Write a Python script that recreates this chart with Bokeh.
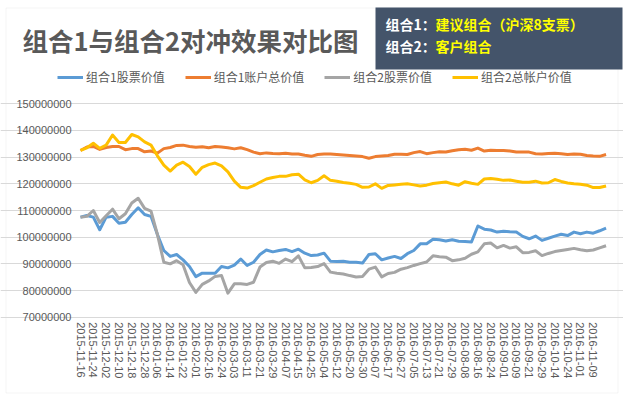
from bokeh.plotting import figure
from bokeh.models import (Range1d, FixedTicker, BasicTickFormatter,
                          Legend, LegendItem, Label, BoxAnnotation, ColumnDataSource)
from bokeh.embed import file_html
from bokeh.resources import INLINE

# ---- data (values in millions, one sample every 3 trading days) ----
tick_labels = ["2015-11-16", "2015-11-24", "2015-12-02", "2015-12-10", "2015-12-18", "2015-12-28",
               "2016-01-06", "2016-01-14", "2016-01-22", "2016-02-01", "2016-02-16", "2016-02-24",
               "2016-03-03", "2016-03-11", "2016-03-21", "2016-03-29", "2016-04-07", "2016-04-15",
               "2016-04-25", "2016-05-04", "2016-05-12", "2016-05-20", "2016-05-30", "2016-06-07",
               "2016-06-17", "2016-06-27", "2016-07-05", "2016-07-13", "2016-07-21", "2016-07-29",
               "2016-08-08", "2016-08-16", "2016-08-24", "2016-09-01", "2016-09-09", "2016-09-21",
               "2016-09-29", "2016-10-14", "2016-10-24", "2016-11-01", "2016-11-09"]
tick_every = 6      # trading days between axis labels
sample_every = 3    # trading days between samples below
n_days = 247        # trading days shown on the axis
y_ticks_m = [70, 80, 90, 100, 110, 120, 130, 140, 150]

stock1 = [107.5, 108.1, 107.5, 102.8, 107.5, 107.8, 105.2, 105.6, 108.5, 111.0,
          108.5, 107.8, 101.0, 95.0, 92.8, 93.5, 91.5, 89.0, 85.2, 86.5,
          86.5, 86.5, 89.0, 88.5, 89.5, 91.8, 89.4, 90.6, 93.5, 95.2,
          94.5, 95.0, 95.4, 94.6, 95.5, 94.0, 93.1, 93.3, 94.0, 91.0,
          90.9, 91.0, 90.6, 90.6, 90.3, 93.5, 93.8, 91.5, 92.2, 92.8,
          92.0, 93.8, 95.0, 97.5, 97.5, 99.2, 99.0, 98.6, 99.0, 98.5,
          98.4, 98.2, 104.2, 103.0, 102.7, 101.9, 102.2, 102.0, 101.9, 100.3,
          99.4, 100.4, 98.8, 99.6, 100.4, 101.1, 100.6, 101.9, 101.3, 101.9,
          101.5, 102.4, 103.4]
acct1 = [132.5, 133.8, 134.0, 132.9, 133.6, 134.0, 134.0, 132.8, 133.2, 133.2,
         132.0, 132.3, 131.5, 133.2, 133.6, 134.4, 134.5, 134.0, 133.7, 133.9,
         133.5, 134.0, 133.8, 133.5, 133.1, 133.5, 132.8, 131.9, 131.3, 131.6,
         131.4, 131.3, 131.5, 131.2, 131.2, 130.7, 130.3, 131.0, 131.2, 131.2,
         131.0, 130.8, 130.6, 130.4, 130.2, 129.6, 130.2, 130.4, 130.6, 131.1,
         131.1, 131.0, 131.7, 132.1, 131.3, 131.7, 132.0, 131.9, 132.4, 132.8,
         133.0, 132.6, 133.4, 132.3, 132.6, 132.5, 132.5, 132.3, 131.9, 131.9,
         131.9, 131.3, 131.2, 131.4, 131.5, 131.3, 131.0, 131.2, 131.1, 130.6,
         130.4, 130.3, 131.0]
stock2 = [107.5, 107.8, 110.0, 105.5, 108.0, 110.5, 106.9, 108.8, 112.8, 114.6,
          110.8, 109.8, 101.0, 90.6, 90.0, 91.2, 89.7, 83.0, 79.3, 82.3,
          83.6, 85.3, 85.6, 79.0, 82.5, 82.5, 82.3, 83.1, 88.8, 90.5,
          91.0, 90.2, 91.8, 90.8, 93.0, 88.5, 88.6, 89.0, 90.1, 86.9,
          86.5, 86.2, 85.6, 85.1, 85.3, 88.0, 88.8, 85.1, 86.4, 86.8,
          88.0, 88.6, 89.4, 90.1, 90.7, 93.0, 92.7, 92.5, 91.2, 91.5,
          92.1, 93.6, 94.5, 97.5, 97.8, 96.0, 96.9, 95.9, 96.4, 94.2,
          94.3, 94.9, 93.1, 93.9, 94.6, 95.0, 95.4, 95.8, 95.3, 94.9,
          95.2, 96.0, 96.8]
acct2 = [132.5, 133.5, 135.2, 133.3, 134.5, 138.3, 135.5, 135.5, 138.5, 137.6,
         135.7, 134.5, 130.5, 127.0, 124.8, 127.0, 128.1, 126.5, 123.6, 126.2,
         127.2, 127.8, 126.7, 124.5, 121.0, 118.7, 118.4, 119.3, 120.6, 121.8,
         122.4, 122.8, 122.8, 123.4, 123.6, 121.5, 120.4, 121.3, 123.0, 121.3,
         121.0, 120.5, 120.2, 119.8, 118.7, 118.8, 120.0, 118.3, 119.4, 119.6,
         119.8, 120.0, 119.6, 119.2, 119.5, 120.1, 120.4, 120.7, 120.0, 119.5,
         120.8, 120.2, 119.8, 121.8, 122.0, 121.7, 121.3, 121.4, 121.0, 120.6,
         120.6, 121.0, 120.3, 120.4, 121.6, 120.9, 120.3, 120.0, 119.8, 119.5,
         118.6, 118.6, 119.2]

series_names = ["组合1股票价值", "组合1账户总价值", "组合2股票价值", "组合2总帐户价值"]
series_colors = ["#5B9BD5", "#ED7D31", "#A5A5A5", "#FFC000"]

title_text = "组合1与组合2对冲效果对比图"
note_lines = [("组合1：", "建议组合（沪深8支票）"), ("组合2：", "客户组合")]

GREY_TXT = "#595959"
GRID = "#D9D9D9"
CJK = "Noto Sans CJK SC"

# ---- layout geometry (pixels) ----
W, H = 623, 397
PL, PR, PT, PB = 80, 607.7, 103.3, 316.7   # plot area inside the canvas
kx = (PR - PL) / n_days
ky = (PB - PT) / (y_ticks_m[-1] - y_ticks_m[0])
x_start = -PL / kx
x_end = n_days + (W - PR) / kx
y_top = (y_ticks_m[-1] + PT / ky) * 1e6
y_bot = (y_ticks_m[0] - (H - PB) / ky) * 1e6

n = len(stock1)
src = ColumnDataSource(dict(
    x=[i * sample_every for i in range(n)],
    s1=[v * 1e6 for v in stock1],
    a1=[v * 1e6 for v in acct1],
    s2=[v * 1e6 for v in stock2],
    a2=[v * 1e6 for v in acct2],
))

p = figure(width=W, height=H, output_backend="svg", toolbar_location=None,
           x_range=Range1d(x_start, x_end), y_range=Range1d(y_bot, y_top),
           min_border_left=0, min_border_right=0, min_border_top=0, min_border_bottom=0)
p.background_fill_color = "white"
p.border_fill_color = "white"
p.outline_line_color = None

# outer chart border
p.add_layout(BoxAnnotation(left=5.5, right=617.5, top=H - 7.5, bottom=H - 392.5,
                           left_units="screen", right_units="screen",
                           top_units="screen", bottom_units="screen",
                           fill_alpha=0, line_color=GRID, line_width=1))

renderers = []
for col, color in zip(["s1", "a1", "s2", "a2"], series_colors):
    renderers.append(p.line("x", col, source=src, line_color=color, line_width=3, line_join="round"))

# axes placed at the plot-area edges
yt = [v * 1e6 for v in y_ticks_m]
p.yaxis.fixed_location = 0
p.yaxis.ticker = FixedTicker(ticks=yt)
p.yaxis.formatter = BasicTickFormatter(use_scientific=False)
p.yaxis.axis_line_color = None
p.yaxis.major_tick_line_color = None
p.yaxis.minor_tick_line_color = None
p.yaxis.major_tick_out = 0
p.yaxis.major_tick_in = 0
p.yaxis.major_label_standoff = 9
p.yaxis.major_label_text_font = "Liberation Sans"
p.yaxis.major_label_text_font_size = "11px"
p.yaxis.major_label_text_color = GREY_TXT

xt = [i * tick_every for i in range(len(tick_labels))]
p.xaxis.fixed_location = yt[0]
p.xaxis.bounds = (0, n_days)
p.xaxis.ticker = FixedTicker(ticks=xt)
p.xaxis.major_label_overrides = {t: lab for t, lab in zip(xt, tick_labels)}
p.xaxis.major_label_orientation = "vertical"
p.xaxis.axis_line_color = GRID
p.xaxis.major_tick_line_color = None
p.xaxis.minor_tick_line_color = None
p.xaxis.major_tick_out = 0
p.xaxis.major_tick_in = 0
p.xaxis.major_label_standoff = 5
p.xaxis.major_label_text_font = "Liberation Sans"
p.xaxis.major_label_text_font_size = "11px"
p.xaxis.major_label_text_color = GREY_TXT

p.xgrid.grid_line_color = None
p.ygrid.ticker = FixedTicker(ticks=yt)
p.ygrid.bounds = (0, n_days)
p.ygrid.grid_line_color = GRID
p.ygrid.grid_line_width = 1

# title
p.add_layout(Label(x=22, y=H - 38.5, x_units="screen", y_units="screen", text=title_text,
                   text_font=CJK, text_font_style="bold", text_font_size="25.5px",
                   text_color=GREY_TXT, text_baseline="middle", text_align="left"))

# dark note box
p.add_layout(BoxAnnotation(left=375, right=622, top=H - 7, bottom=H - 69,
                           left_units="screen", right_units="screen",
                           top_units="screen", bottom_units="screen",
                           fill_color="#44546A", fill_alpha=1, line_color=None))
for i, (lead, rest) in enumerate(note_lines):
    yy = H - (23.5 + i * 22)
    p.add_layout(Label(x=385, y=yy, x_units="screen", y_units="screen", text=lead,
                       text_font=CJK, text_font_style="bold", text_font_size="14px",
                       text_color="white", text_baseline="middle"))
    p.add_layout(Label(x=435, y=yy, x_units="screen", y_units="screen", text=rest,
                       text_font=CJK, text_font_style="bold", text_font_size="14px",
                       text_color="#FFFF00", text_baseline="middle"))

# legend
legend = Legend(items=[LegendItem(label=nm, renderers=[r]) for nm, r in zip(series_names, renderers)],
                orientation="horizontal", location=(57, H - 85),
                label_text_font=CJK, label_text_font_size="12px",
                label_text_color=GREY_TXT, glyph_width=26, glyph_height=14, label_height=14,
                label_standoff=3, spacing=20, padding=0, margin=0,
                border_line_color=None, background_fill_alpha=0)
p.add_layout(legend)

open("out.html", "w").write(file_html(p, INLINE))
